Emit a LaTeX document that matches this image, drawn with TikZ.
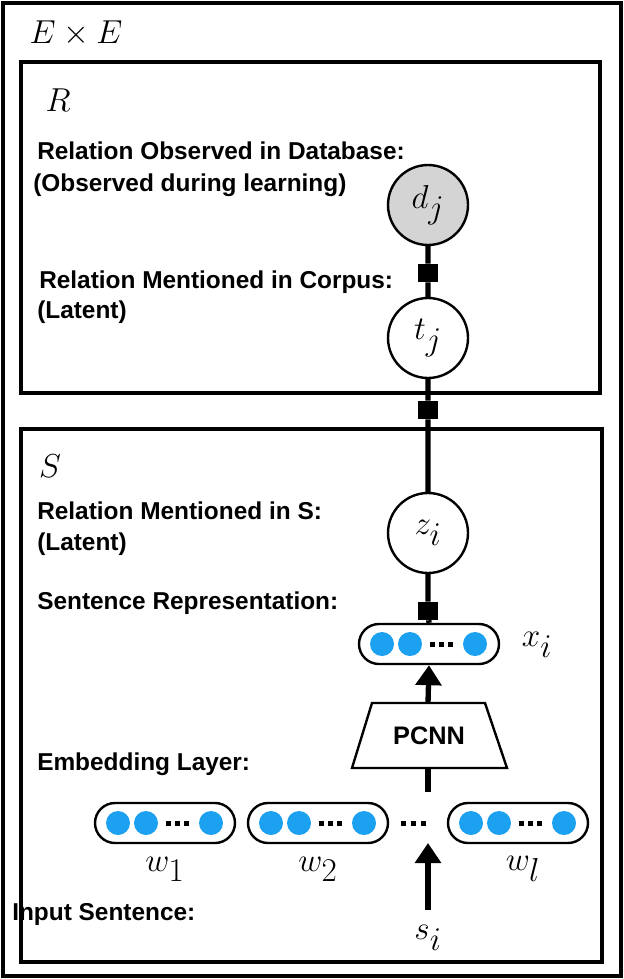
\documentclass[tikz,border=0pt]{standalone}
\usepackage{fontspec}
\setmainfont{Liberation Sans}
\usetikzlibrary{shapes.geometric,shapes.misc,arrows.meta}
\definecolor{dotblue}{RGB}{28,160,240}
\begin{document}
\begin{tikzpicture}[x=0.75pt,y=-0.75pt,
  box/.style={draw,line width=2.6pt},
  lbl/.style={anchor=base west,inner sep=0,font=\fontsize{18.3}{22}\selectfont\bfseries},
  big/.style={inner sep=0,font=\fontsize{42}{48}\selectfont},
  var/.style={circle,draw,line width=1.8pt,minimum size=60pt,inner sep=0,font=\fontsize{33}{38}\selectfont,fill=white},
  fac/.style={rectangle,fill=black,minimum width=15pt,minimum height=13.5pt,inner sep=0},
  pill/.style={rounded rectangle,draw,line width=1.8pt,minimum width=105pt,minimum height=30pt,inner sep=0},
  mth/.style={inner sep=0,font=\fontsize{33}{38}\selectfont},
  edge/.style={line width=4pt},
  arr/.style={line width=4pt,-{Triangle[width=19pt,length=15pt]}},
  bd/.style={fill=dotblue,draw=none}]
\useasboundingbox (0,0) rectangle (624,979);
\draw[box] (3,3) rectangle (621,976);
\draw[box] (21,62) rectangle (600,393);
\draw[box] (21,429) rectangle (602,962);
\node[big] (ee) at (76,34) {$E\times E$};
\node[big] (r) at (58,100) {$R$};
\node[big] (s) at (50,466) {$S$};
\node[lbl] (t1) at (37,159) {Relation Observed in Database:};
\node[lbl] (t2) at (33,191) {(Observed during learning)};
\node[lbl] (t3) at (39,288) {Relation Mentioned in Corpus:};
\node[lbl] (t4) at (37,318) {(Latent)};
\node[lbl] (t5) at (37,519) {Relation Mentioned in S:};
\node[lbl] (t6) at (37,550) {(Latent)};
\node[lbl] (t7) at (37,609) {Sentence Representation:};
\node[lbl] (t8) at (37,770) {Embedding Layer:};
\node[lbl] (t9) at (12,920) {Input Sentence:};
\node[fac] (f1) at (428,273) {};
\node[fac] (f2) at (428,410) {};
\node[fac] (f3) at (428,611) {};
\node[pill] (x) at (429,644) {};
\coordinate (pb) at (428,792);
\coordinate (pt) at (428,703);
\coordinate (pbot) at (428,768);
\coordinate (sa) at (428,843);
\coordinate (st) at (428,910);
\node[mth] (si) at (428,938) {$s_i$};
\draw[edge] (428,205) -- (f1) -- (428,338) -- (f2) -- (428,533) -- (f3) -- (x.north);
\node[var,fill=black!17] (d) at (428,205) {$d_j$};
\node[var] (t) at (428,338) {$t_j$};
\node[var] (z) at (428,533) {$z_i$};
\draw[line width=1.8pt,line join=miter] (372,703) -- (485,703) -- (507,768) -- (352,768) -- cycle;
\node[inner sep=0,font=\fontsize{19}{22}\selectfont\bfseries] (pcnn) at (429,736) {PCNN};
\draw[arr] (pt) -- (x.south);
\draw[edge] (pb) -- (pbot);
\draw[arr] (st) -- (sa);
\node[mth] (xl) at (537,645) {$x_i$};
\node[pill] (w1) at (165,823) {};
\node[pill] (w2) at (318,823) {};
\node[pill] (wl) at (518,823) {};
\node[mth] (w1l) at (165,869) {$w_1$};
\node[mth] (w2l) at (318,869) {$w_2$};
\node[mth] (wll) at (523,869) {$w_l$};
\foreach \c/\y in {429/644,165/823,318/823,518/823}{
  \fill[bd] (\c-47,\y) circle (9pt);
  \fill[bd] (\c-19,\y) circle (9pt);
  \fill[bd] (\c+46,\y) circle (9pt);
  \foreach \d in {3,12,21} \fill (\c+\d-2.5,\y-2.5) rectangle (\c+\d+2.5,\y+2.5);
}
\foreach \d in {-10,0,10} \fill (413+\d-2.5,820.5) rectangle (413+\d+2.5,825.5);
\end{tikzpicture}
\end{document}
